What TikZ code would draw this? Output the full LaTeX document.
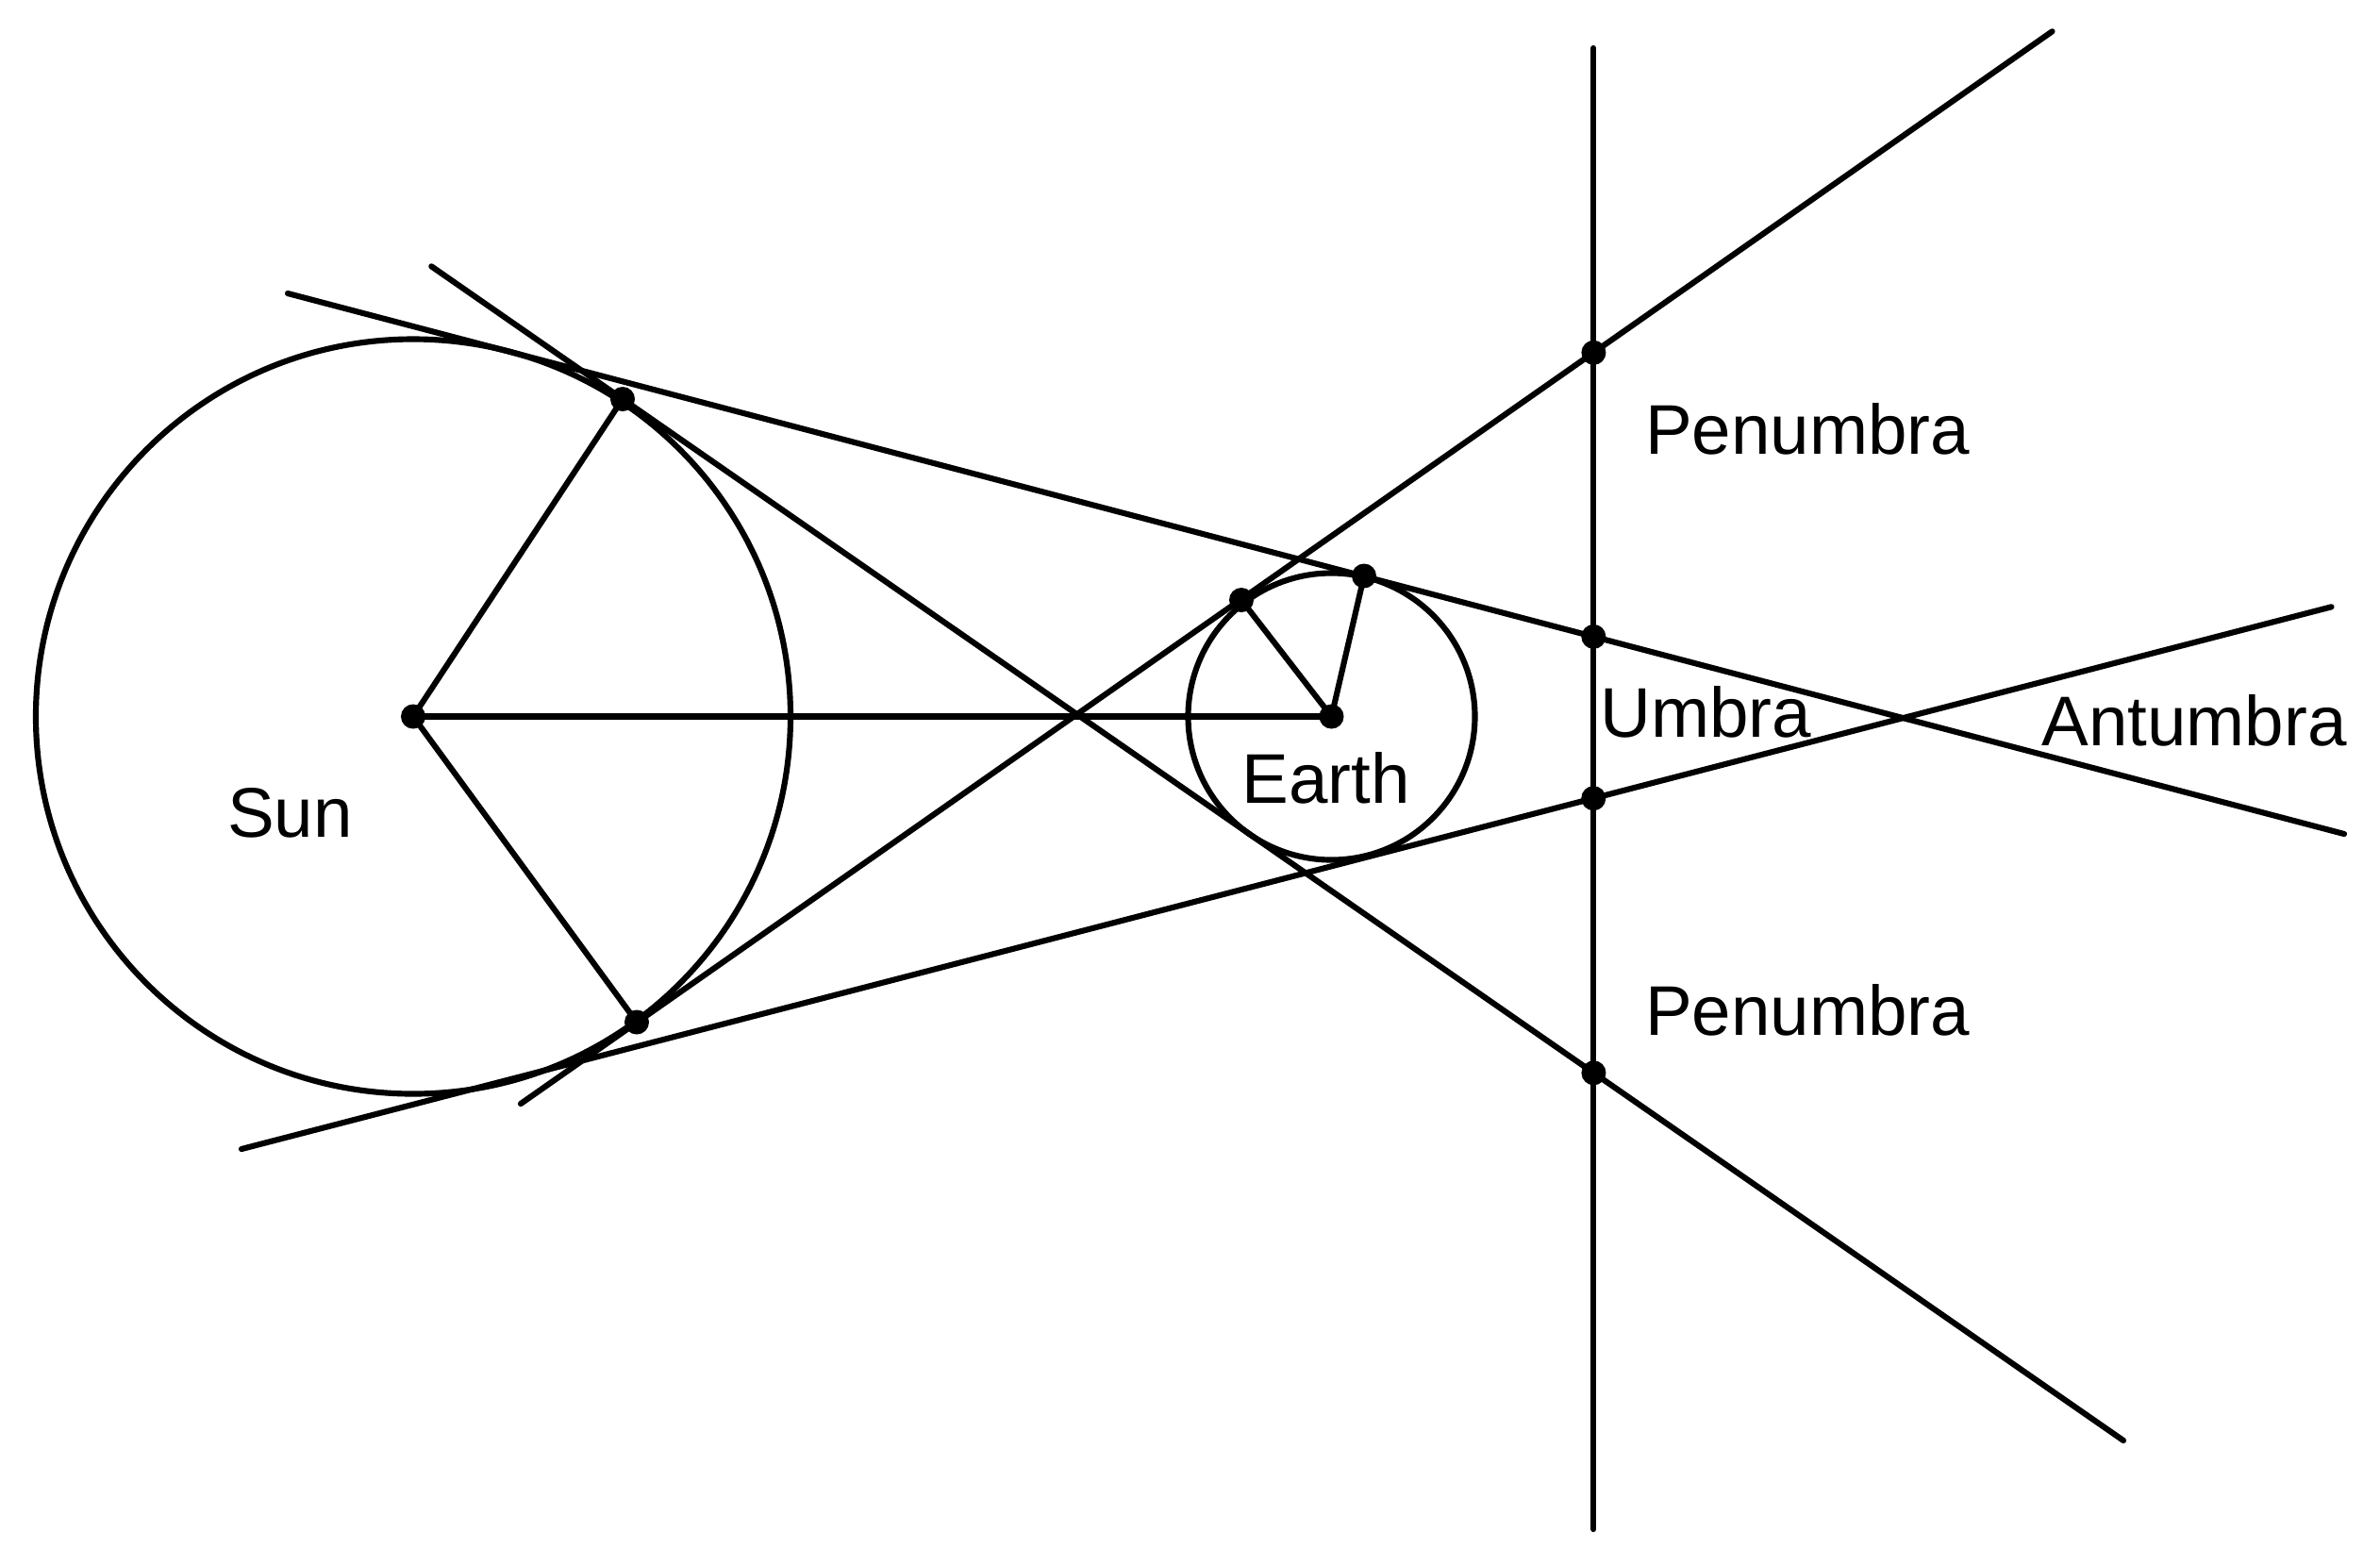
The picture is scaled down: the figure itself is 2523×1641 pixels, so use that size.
\documentclass[tikz,border=0pt]{standalone}
\usepackage{fontspec}
\setmainfont{Liberation Sans}
\begin{document}
\begin{tikzpicture}[x=0.01cm,y=-0.01cm,
  ln/.style={line width=1.75pt,line cap=round},
  dot/.style={circle,fill=black,inner sep=0pt,minimum size=0.26cm},
  lbl/.style={anchor=base,inner sep=0pt,font=\fontsize{21.2}{25}\selectfont}]
\useasboundingbox (0,0) rectangle (2523,1641);
% centres
\coordinate (S) at (438,759.5);
\coordinate (E) at (1411.5,759.5);
% line end points
\coordinate (a1) at (305,311);     \coordinate (a2) at (2485,884);
\coordinate (b1) at (256,1218);    \coordinate (b2) at (2471.5,643.3);
\coordinate (c1) at (457.3,282.3); \coordinate (c2) at (2251,1527);
\coordinate (d1) at (552,1170);    \coordinate (d2) at (2175.5,33.3);
\coordinate (v1) at (1689.3,51);   \coordinate (v2) at (1689.3,1621);
% tangent points
\coordinate (st) at (660,423);
\coordinate (sb) at (675,1083.5);
\coordinate (et1) at (1316,636);
\coordinate (et2) at (1446,610.5);
% circles
\draw[ln] (S) circle [radius=400];
\draw[ln] (E) circle [radius=152];
% lines
\draw[ln] (a1) -- (a2);
\draw[ln] (b1) -- (b2);
\draw[ln] (c1) -- (c2);
\draw[ln] (d1) -- (d2);
\draw[ln] (v1) -- (v2);
\draw[ln] (S) -- (E);
\draw[ln] (st) -- (S) -- (sb);
\draw[ln] (et1) -- (E) -- (et2);
% dots
\node[dot] (nS) at (S) {};
\node[dot] (nE) at (E) {};
\node[dot] (nst) at (st) {};
\node[dot] (nsb) at (sb) {};
\node[dot] (net1) at (et1) {};
\node[dot] (net2) at (et2) {};
\node[dot] (p1) at (intersection of d1--d2 and v1--v2) {};
\node[dot] (p2) at (intersection of a1--a2 and v1--v2) {};
\node[dot] (p3) at (intersection of b1--b2 and v1--v2) {};
\node[dot] (p4) at (intersection of c1--c2 and v1--v2) {};
% labels
\node[lbl] (tsun) at (307.5,887) {Sun};
\node[lbl] (tearth) at (1405.8,851) {Earth};
\node[lbl] (tpen1) at (1916,481) {Penumbra};
\node[lbl] (tumb) at (1808.3,781) {Umbra};
\node[lbl] (tant) at (2326,790) {Antumbra};
\node[lbl] (tpen2) at (1916,1097.7) {Penumbra};
\end{tikzpicture}
\end{document}
